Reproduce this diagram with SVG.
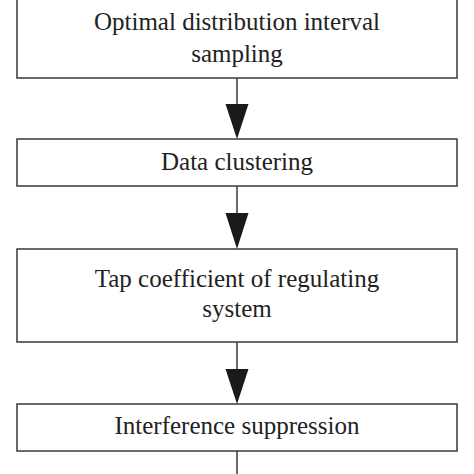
<svg xmlns="http://www.w3.org/2000/svg" width="474" height="474" viewBox="0 0 474 474">
<style>
.box{fill:#fff;stroke:#3a3a3a;stroke-width:1.5}
.t{font-family:"Liberation Serif","Times New Roman",serif;font-size:25px;fill:#222;text-anchor:middle}
.c{stroke:#3a3a3a;stroke-width:1.5;fill:none}
.h{fill:#1a1a1a}
</style>
<rect width="474" height="474" fill="#fff"/>
<g id="connectors">
<line class="c" x1="237" y1="78" x2="237" y2="105"/>
<polygon class="h" points="225.5,104 248.5,104 237,139"/>
<line class="c" x1="237" y1="186" x2="237" y2="214"/>
<polygon class="h" points="225.5,213 248.5,213 237,249"/>
<line class="c" x1="237" y1="342" x2="237" y2="370"/>
<polygon class="h" points="225.5,369 248.5,369 237,404"/>
<line class="c" x1="237" y1="451" x2="237" y2="474"/>
</g>
<g id="n1">
<rect class="box" x="17" y="-3" width="440" height="81"/>
<text class="t" x="237" y="30">Optimal distribution interval</text>
<text class="t" x="237" y="62">sampling</text>
</g>
<g id="n2">
<rect class="box" x="17" y="139" width="440" height="47"/>
<text class="t" x="237" y="170">Data clustering</text>
</g>
<g id="n3">
<rect class="box" x="17" y="249" width="440" height="93"/>
<text class="t" x="237" y="287">Tap coefficient of regulating</text>
<text class="t" x="237" y="317">system</text>
</g>
<g id="n4">
<rect class="box" x="17" y="404" width="440" height="47"/>
<text class="t" x="237" y="434">Interference suppression</text>
</g>
</svg>
